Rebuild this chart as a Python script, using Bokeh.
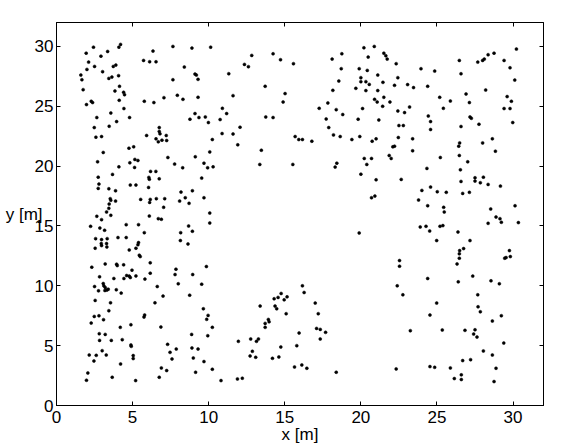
from bokeh.plotting import figure
from bokeh.models import Range1d, LinearAxis, FixedTicker, ColumnDataSource
from bokeh.embed import file_html
from bokeh.resources import INLINE

# point coordinates in metres
x_m = [
    4.21, 4.10, 2.43, 3.36, 1.95, 2.92, 6.34, 7.65, 8.90, 5.72, 6.12, 6.54, 2.11, 3.90, 3.73, 8.40,
    2.00, 2.50, 3.03, 4.08, 3.64, 3.44, 1.60, 1.67, 7.65, 4.14, 1.75, 3.84, 4.41, 4.47, 7.94, 7.06,
    8.31, 9.30, 1.97, 2.28, 2.37, 4.12, 5.77, 6.40, 4.43, 3.57, 9.10, 9.36, 2.65, 4.80, 8.77, 2.48,
    3.95, 3.46, 6.75, 6.75, 6.80, 2.59, 2.96, 5.92, 6.54, 6.69, 6.93, 7.21, 7.24, 3.07, 4.76, 5.07,
    4.82, 5.15, 5.35, 5.13, 2.70, 7.32, 7.76, 8.29, 9.12, 4.10, 2.74, 3.68, 2.79, 2.74, 4.85, 5.22,
    6.07, 6.10, 6.53, 6.18, 6.75, 6.05, 3.44, 3.88, 3.53, 3.57, 3.88, 5.53, 6.16, 6.12, 6.56, 7.11,
    7.04, 8.09, 8.18, 8.46, 8.71, 8.93, 3.46, 3.44, 3.29, 3.57, 2.65, 2.96, 6.10, 6.69, 6.89, 2.24,
    2.85, 3.16, 4.58, 5.39, 5.77, 8.16, 8.68, 8.93, 2.57, 2.96, 3.33, 4.04, 4.58, 2.94, 2.96, 3.29,
    3.31, 2.54, 5.39, 5.35, 5.22, 4.78, 8.14, 8.64, 5.44, 5.50, 2.32, 3.20, 3.95, 3.99, 4.41, 6.16,
    6.16, 7.85, 7.79, 8.95, 2.83, 3.77, 4.43, 4.61, 4.78, 4.85, 4.96, 5.22, 5.81, 2.50, 3.07, 3.11,
    3.20, 3.18, 3.31, 3.40, 2.76, 3.93, 4.25, 6.62, 8.00, 7.00, 8.75, 2.54, 3.55, 6.47, 3.44, 2.28,
    2.48, 2.79, 3.09, 5.79, 5.75, 4.89, 4.19, 6.86, 2.81, 3.20, 2.83, 3.60, 4.32, 8.88, 4.89, 4.91,
    7.30, 8.90, 9.30, 7.87, 7.46, 3.00, 2.15, 2.61, 3.27, 2.46, 5.04, 5.04, 7.59, 8.99, 4.21, 2.06,
    1.97, 3.66, 5.20, 6.75, 6.89, 7.24, 9.14,
    9.10, 9.19, 9.30, 10.13, 10.75, 9.78, 9.98, 10.24, 10.07, 10.29, 9.93, 9.69, 9.54, 9.69, 10.07,
    10.07, 9.85, 9.54, 9.65, 9.96, 9.87, 10.24, 9.94, 9.69, 10.24, 10.81,
    12.83, 14.23, 14.72, 15.57, 12.35, 12.61, 11.32, 13.71, 15.02, 14.89, 11.60, 10.90, 11.18, 13.75,
    14.23, 12.06, 10.88, 11.60, 11.91, 13.46, 13.36, 15.53, 15.68, 15.92, 16.16, 16.78, 18.11, 18.75,
    18.71, 18.55, 18.16, 17.83, 17.26, 18.38, 18.81, 17.72, 17.89, 18.20, 18.64, 19.41, 19.93, 20.74,
    21.00, 20.20, 20.88, 20.48, 19.89, 20.42, 21.11, 20.00, 20.00, 20.33, 20.55, 19.67, 20.33, 21.11,
    20.90, 21.07, 20.11, 19.82, 21.18, 18.42, 18.31, 20.22, 20.70, 20.39, 20.00, 21.00, 20.70, 20.92,
    19.89, 11.89, 12.21, 11.95, 12.76, 13.14, 13.27, 12.87, 12.72, 13.09, 13.38, 13.71, 13.71, 13.92,
    13.97, 14.30, 14.56, 14.76, 14.36, 14.47, 14.96, 15.15, 15.09, 16.16, 16.27, 17.00, 17.20, 17.09,
    17.33, 17.68, 17.33, 15.94, 15.79, 14.74, 14.19, 14.61, 15.64, 16.12, 16.45, 18.38,
    21.51, 21.64, 21.73, 22.32, 21.45, 22.21, 22.43, 23.07, 23.46, 24.39, 23.95, 24.85, 21.51, 21.91,
    21.43, 22.43, 22.87, 23.20, 22.50, 22.79, 22.46, 23.40, 23.40, 22.10, 22.21, 21.86, 21.99, 22.65,
    25.18, 25.42, 25.88, 24.43, 24.58, 24.58, 26.47, 26.58, 26.91, 27.13, 27.17, 27.26, 27.76, 26.58,
    27.68, 28.00, 28.11, 28.36, 28.75, 29.41, 30.22, 29.80, 30.11, 28.20, 29.61, 29.89, 29.41, 29.80,
    29.98, 28.00, 28.64, 28.84, 26.49, 26.43, 26.47, 26.54, 27.02, 25.22, 24.34, 26.58, 26.69, 27.13,
    27.50, 27.50, 27.85, 28.05, 28.36, 29.17, 24.01, 24.58, 25.02, 25.61, 23.79, 24.39, 25.44, 25.48,
    28.53, 28.88, 29.14, 28.36, 29.23, 30.13, 30.35, 23.90, 24.28, 24.52, 25.20, 25.39, 24.98, 26.38,
    27.17, 26.49, 26.75, 26.47, 26.47, 26.32, 29.76, 29.45, 29.54, 29.82, 22.54, 22.54, 22.39, 22.76,
    24.39, 26.40, 27.35, 28.55, 29.10, 24.98, 24.54, 27.68, 27.70, 27.85, 28.64, 29.23, 25.35, 23.25,
    26.84, 27.50, 27.41, 27.63, 29.39, 28.05, 28.64, 26.69, 27.21, 24.54, 24.85, 25.88, 28.88, 22.32,
    26.14, 26.60, 26.60, 28.75,
]
y_m = [
    30.17, 29.94, 29.94, 29.58, 29.44, 29.19, 29.61, 30.00, 29.86, 28.83, 28.72, 28.72, 28.69, 28.44, 28.33, 28.28,
    28.08, 28.33, 27.89, 27.56, 27.44, 27.33, 27.61, 27.22, 27.22, 26.67, 26.39, 26.28, 26.17, 25.97, 25.92, 25.72,
    25.58, 25.75, 25.14, 25.42, 25.31, 25.50, 25.42, 25.31, 24.81, 24.44, 24.39, 24.06, 24.06, 24.06, 23.92, 23.22,
    23.72, 23.33, 23.22, 22.90, 22.70, 22.42, 22.47, 22.56, 22.28, 22.03, 22.17, 22.56, 22.14, 21.14, 21.50, 21.61,
    20.28, 20.56, 20.47, 19.89, 20.36, 20.72, 20.17, 19.86, 20.78, 19.94, 19.08, 19.31, 18.50, 18.14, 18.42, 18.42,
    19.06, 18.90, 19.56, 19.56, 18.94, 18.22, 18.11, 17.94, 17.28, 17.14, 17.08, 17.22, 17.22, 16.97, 17.28, 17.28,
    16.56, 17.08, 17.83, 17.36, 16.89, 17.94, 16.83, 16.47, 16.17, 15.89, 15.81, 15.53, 15.83, 15.61, 15.56, 14.97,
    14.83, 14.64, 15.11, 15.11, 14.44, 14.44, 15.00, 14.56, 13.94, 13.86, 13.94, 14.03, 14.03, 13.53, 13.36, 13.53,
    13.25, 13.14, 13.61, 13.44, 13.14, 13.00, 13.78, 13.50, 12.56, 12.44, 11.56, 11.83, 11.81, 11.69, 11.75, 11.92,
    11.06, 11.39, 10.94, 10.94, 10.75, 10.61, 10.61, 10.86, 10.81, 10.69, 11.31, 10.83, 10.56, 9.94, 10.19, 10.00,
    9.86, 9.61, 9.64, 9.72, 9.58, 9.67, 9.39, 9.94, 10.17, 9.14, 9.22, 8.78, 8.58, 8.58, 7.92, 6.89,
    7.44, 7.50, 7.17, 7.56, 7.39, 6.75, 6.53, 6.56, 6.00, 5.94, 5.44, 5.44, 5.50, 5.94, 5.06, 4.94,
    5.11, 4.81, 4.72, 4.72, 4.44, 4.58, 4.22, 4.19, 4.22, 3.72, 4.17, 3.92, 3.89, 3.97, 3.47, 2.72,
    2.11, 2.36, 2.08, 2.36, 3.14, 2.92, 2.78,
    27.69, 27.61, 27.25, 29.94, 23.89, 24.11, 23.64, 22.22, 21.19, 19.94, 19.86, 20.25, 19.00, 17.36, 16.08,
    15.25, 11.61, 10.14, 8.08, 7.53, 7.20, 6.53, 5.83, 3.67, 3.03, 2.08,
    29.25, 29.39, 28.89, 28.56, 28.50, 28.31, 27.72, 26.67, 26.06, 25.36, 25.89, 24.83, 24.39, 24.11,
    24.06, 23.25, 22.72, 22.69, 21.78, 21.33, 20.14, 20.14, 22.47, 22.22, 22.22, 22.08, 28.94, 29.39,
    28.14, 27.11, 26.33, 25.28, 24.83, 24.72, 24.31, 23.94, 23.22, 22.61, 22.47, 22.22, 22.47, 22.08,
    22.28, 29.89, 30.00, 29.11, 28.14, 28.00, 27.61, 27.39, 27.06, 27.06, 26.83, 26.50, 26.31, 26.31,
    25.58, 25.36, 24.81, 23.92, 23.86, 20.25, 19.92, 20.64, 20.64, 20.14, 19.33, 18.86, 17.36, 17.50,
    14.42, 2.22, 2.28, 5.36, 5.56, 5.36, 5.56, 4.53, 4.14, 4.03, 8.31, 6.53, 6.86, 7.19,
    7.00, 8.92, 9.03, 9.36, 8.31, 8.08, 8.83, 9.08, 7.67, 10.00, 9.44, 8.56, 7.67, 6.44,
    6.36, 6.11, 5.56, 6.06, 5.00, 4.89, 3.94, 4.06, 3.22, 3.39, 3.11, 2.78,
    29.44, 29.22, 28.94, 28.56, 27.00, 26.75, 27.39, 26.81, 26.56, 26.67, 28.14, 27.94, 25.75, 25.36,
    25.00, 24.61, 24.47, 24.94, 23.39, 23.39, 22.39, 22.28, 21.28, 21.61, 21.67, 20.89, 20.64, 18.89,
    25.75, 24.83, 25.44, 24.19, 23.72, 23.06, 28.83, 27.72, 26.03, 25.31, 24.11, 24.00, 23.50, 23.31,
    28.69, 28.83, 28.94, 29.31, 29.44, 28.83, 29.78, 28.22, 27.19, 26.36, 25.81, 25.42, 24.81, 24.81,
    23.64, 21.94, 22.28, 21.25, 21.94, 21.67, 20.89, 19.69, 20.36, 20.72, 19.81, 18.72, 17.72, 17.81,
    19.03, 18.75, 18.61, 19.08, 18.47, 18.33, 17.97, 18.25, 17.86, 17.81, 17.17, 16.69, 16.56, 16.17,
    16.42, 15.75, 15.61, 15.22, 15.31, 16.69, 15.28, 14.92, 14.97, 14.58, 14.97, 15.03, 13.78, 14.50,
    13.78, 12.94, 13.11, 12.67, 12.31, 11.83, 12.94, 12.31, 12.36, 12.44, 12.11, 11.64, 10.00, 9.25,
    10.61, 10.33, 10.81, 10.42, 10.17, 8.56, 7.56, 9.25, 8.25, 7.83, 7.06, 7.50, 6.31, 6.25,
    6.28, 6.33, 5.97, 5.72, 5.22, 4.56, 4.22, 3.75, 3.83, 3.25, 3.19, 3.14, 3.11, 3.06,
    2.25, 2.56, 2.17, 2.00,
]
x_ticks = [0, 5, 10, 15, 20, 25, 30]
y_ticks = [0, 5, 10, 15, 20, 25, 30]
x_label = "x [m]"
y_label = "y [m]"

n = min(len(x_m), len(y_m))
src = ColumnDataSource(data=dict(x=x_m[:n], y=y_m[:n]))

FONT = "Liberation Sans"

p = figure(output_backend="svg", toolbar_location=None,
           frame_width=487, frame_height=383,
           min_border_left=56, min_border_right=18, min_border_top=22, min_border_bottom=41,
           x_range=Range1d(0, 32), y_range=Range1d(0, 32),
           x_axis_location=None, y_axis_location=None)
p.background_fill_color = "white"
p.border_fill_color = "white"
p.outline_line_color = "black"
p.outline_line_width = 1
p.xgrid.visible = False
p.ygrid.visible = False

def make_axis(ticks, show_labels, standoff):
    ax = LinearAxis(ticker=FixedTicker(ticks=ticks))
    ax.major_tick_in = 4
    ax.major_tick_out = 0
    ax.minor_tick_line_color = None
    ax.axis_line_color = "black"
    ax.major_tick_line_color = "black"
    ax.major_label_text_font = FONT
    ax.major_label_text_color = "black"
    ax.major_label_standoff = standoff
    if show_labels:
        ax.major_label_text_font_size = "17px"
    else:
        ax.major_label_text_font_size = "1px"
        ax.major_label_text_color = None
        ax.major_label_standoff = 0
    return ax

xb = make_axis(x_ticks, True, 5)
xb.axis_label = x_label
xb.axis_label_text_font = FONT
xb.axis_label_text_font_size = "17px"
xb.axis_label_text_font_style = "normal"
xb.axis_label_text_color = "black"
xb.axis_label_standoff = -1

yl = make_axis(y_ticks, True, 3)
yl.axis_label = y_label
yl.axis_label_orientation = "horizontal"
yl.axis_label_text_font = FONT
yl.axis_label_text_font_size = "17px"
yl.axis_label_text_font_style = "normal"
yl.axis_label_text_color = "black"
yl.axis_label_standoff = -11

p.add_layout(xb, "below")
p.add_layout(yl, "left")
p.add_layout(make_axis(x_ticks, False, 0), "above")
p.add_layout(make_axis(y_ticks, False, 0), "right")

p.scatter("x", "y", source=src, marker="circle", size=3.0,
          fill_color="black", line_color="black", line_width=0.5)

open("out.html", "w").write(file_html(p, INLINE))
